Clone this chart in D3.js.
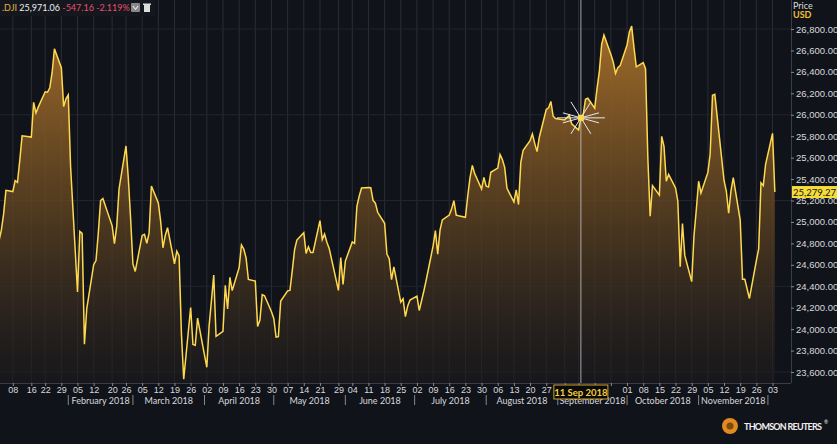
<!DOCTYPE html><html><head><meta charset="utf-8">
<script src="https://cdn.jsdelivr.net/npm/d3@7"></script>
<style>body{margin:0;background:#11131b;}svg{display:block;font-family:Lato,"Open Sans",sans-serif;}</style></head><body>
<svg id="c" width="837" height="444"></svg>
<script>
const dates=["2018-01-02","2018-01-03","2018-01-04","2018-01-05","2018-01-08","2018-01-09","2018-01-10","2018-01-11","2018-01-12","2018-01-16","2018-01-17","2018-01-18","2018-01-19","2018-01-22","2018-01-23","2018-01-24","2018-01-25","2018-01-26","2018-01-29","2018-01-30","2018-01-31","2018-02-01","2018-02-02","2018-02-05","2018-02-06","2018-02-07","2018-02-08","2018-02-09","2018-02-12","2018-02-13","2018-02-14","2018-02-15","2018-02-16","2018-02-20","2018-02-21","2018-02-22","2018-02-23","2018-02-26","2018-02-27","2018-02-28","2018-03-01","2018-03-02","2018-03-05","2018-03-06","2018-03-07","2018-03-08","2018-03-09","2018-03-12","2018-03-13","2018-03-14","2018-03-15","2018-03-16","2018-03-19","2018-03-20","2018-03-21","2018-03-22","2018-03-23","2018-03-26","2018-03-27","2018-03-28","2018-03-29","2018-04-02","2018-04-03","2018-04-04","2018-04-05","2018-04-06","2018-04-09","2018-04-10","2018-04-11","2018-04-12","2018-04-13","2018-04-16","2018-04-17","2018-04-18","2018-04-19","2018-04-20","2018-04-23","2018-04-24","2018-04-25","2018-04-26","2018-04-27","2018-04-30","2018-05-01","2018-05-02","2018-05-03","2018-05-04","2018-05-07","2018-05-08","2018-05-09","2018-05-10","2018-05-11","2018-05-14","2018-05-15","2018-05-16","2018-05-17","2018-05-18","2018-05-21","2018-05-22","2018-05-23","2018-05-24","2018-05-25","2018-05-29","2018-05-30","2018-05-31","2018-06-01","2018-06-04","2018-06-05","2018-06-06","2018-06-07","2018-06-08","2018-06-11","2018-06-12","2018-06-13","2018-06-14","2018-06-15","2018-06-18","2018-06-19","2018-06-20","2018-06-21","2018-06-22","2018-06-25","2018-06-26","2018-06-27","2018-06-28","2018-06-29","2018-07-02","2018-07-03","2018-07-05","2018-07-06","2018-07-09","2018-07-10","2018-07-11","2018-07-12","2018-07-13","2018-07-16","2018-07-17","2018-07-18","2018-07-19","2018-07-20","2018-07-23","2018-07-24","2018-07-25","2018-07-26","2018-07-27","2018-07-30","2018-07-31","2018-08-01","2018-08-02","2018-08-03","2018-08-06","2018-08-07","2018-08-08","2018-08-09","2018-08-10","2018-08-13","2018-08-14","2018-08-15","2018-08-16","2018-08-17","2018-08-20","2018-08-21","2018-08-22","2018-08-23","2018-08-24","2018-08-27","2018-08-28","2018-08-29","2018-08-30","2018-08-31","2018-09-04","2018-09-05","2018-09-06","2018-09-07","2018-09-10","2018-09-11","2018-09-12","2018-09-13","2018-09-14","2018-09-17","2018-09-18","2018-09-19","2018-09-20","2018-09-21","2018-09-24","2018-09-25","2018-09-26","2018-09-27","2018-09-28","2018-10-01","2018-10-02","2018-10-03","2018-10-04","2018-10-05","2018-10-08","2018-10-09","2018-10-10","2018-10-11","2018-10-12","2018-10-15","2018-10-16","2018-10-17","2018-10-18","2018-10-19","2018-10-22","2018-10-23","2018-10-24","2018-10-25","2018-10-26","2018-10-29","2018-10-30","2018-10-31","2018-11-01","2018-11-02","2018-11-05","2018-11-06","2018-11-07","2018-11-08","2018-11-09","2018-11-12","2018-11-13","2018-11-14","2018-11-15","2018-11-16","2018-11-19","2018-11-20","2018-11-21","2018-11-23","2018-11-26","2018-11-27","2018-11-28","2018-11-29","2018-11-30","2018-12-03","2018-12-04"];
const closes=[24824,24922,25075,25295,25283,25385,25369,25574,25803,25792,26115,26017,26071,26214,26210,26252,26392,26616,26439,26076,26149,26186,25520,24346,24912,24893,23860,24190,24601,24640,24893,25200,25219,24964,24798,24963,25310,25709,25410,25029,24608,24538,24874,24884,24801,24895,25336,25178,25007,24759,24873,24946,24610,24727,24683,23958,23533,24202,23857,23849,24103,23644,24033,24264,24505,23933,23979,24408,24189,24483,24360,24573,24786,24748,24665,24463,24448,24024,24084,24322,24311,24163,24100,23925,23930,24262,24357,24361,24543,24739,24831,24899,24706,24768,24714,24715,25013,24835,24887,24811,24753,24362,24668,24416,24635,24813,24800,25146,25241,25317,25322,25320,25201,25175,25090,24987,24700,24657,24461,24580,24252,24283,24117,24216,24271,24307,24174,24356,24456,24776,24919,24700,24924,25019,25064,25120,25199,25064,25058,25044,25241,25415,25527,25451,25307,25415,25333,25326,25463,25502,25629,25583,25509,25313,25187,25300,25162,25558,25669,25758,25822,25733,25656,25790,26049,26064,26124,25986,25964,25952,25974,25995,25916,25857,25971,26000,26145,26154,26062,26246,26405,26657,26743,26562,26492,26385,26439,26458,26651,26773,26828,26627,26447,26487,26430,25599,25053,25340,25250,25798,25706,25380,25444,25317,25191,24583,24985,24688,24443,24875,25116,25380,25270,25462,25636,26181,26191,25989,25387,25286,25081,25289,25413,25018,24466,24465,24286,24640,24749,25366,25339,25538,25826,25279];
const priceTicks=[23600,23800,24000,24200,24400,24600,24800,25000,25200,25400,25600,25800,26000,26200,26400,26600,26800];
const monthLabels=["February 2018","March 2018","April 2018","May 2018","June 2018","July 2018","August 2018","September 2018","October 2018","November 2018"];
const lastPrice="25,279.27";
const crossDate="2018-09-11", crossLabel="11 Sep 2018";

const p=d3.timeParse("%Y-%m-%d");
const data=dates.map((d,i)=>({d:p(d),v:closes[i]}));
const svg=d3.select("#c");
const W=791,H=383;
const x=d3.scaleTime().domain([p("2018-01-02"),p("2018-12-11")]).range([-1,W]);
const y=d3.scaleLinear().domain([23600,26800]).range([372,29]);

svg.append("rect").attr("width",837).attr("height",444).attr("fill","#11131b");
const defs=svg.append("defs");
const g=defs.append("linearGradient").attr("id","ag").attr("x1",0).attr("x2",0).attr("y1",0).attr("y2",1);
g.append("stop").attr("offset","0%").attr("stop-color","#a8702a").attr("stop-opacity",0.95);
g.append("stop").attr("offset","55%").attr("stop-color","#5a4020").attr("stop-opacity",0.8);
g.append("stop").attr("offset","100%").attr("stop-color","#1a1a1c").attr("stop-opacity",0.6);
defs.append("clipPath").attr("id","cp").append("rect").attr("width",W).attr("height",H);

const weeks=d3.groups(data.filter(d=>d.d>=p("2018-01-08")),d=>+d3.timeMonday.floor(d.d)).map(gr=>gr[1][0].d);
const grid=svg.append("g");
grid.selectAll("line.v").data(weeks).join("line").attr("x1",d=>x(d)).attr("x2",d=>x(d)).attr("y1",0).attr("y2",H).attr("stroke","#2a2d36").attr("stroke-width",1);
grid.selectAll("line.h").data(priceTicks.filter((d,i)=>i%4==0)).join("line").attr("x1",0).attr("x2",W).attr("y1",d=>y(d)).attr("y2",d=>y(d)).attr("stroke","#22252e");

const pl=svg.append("g").attr("clip-path","url(#cp)");
pl.append("path").datum(data).attr("fill","url(#ag)").attr("d",d3.area().x(d=>x(d.d)).y0(H).y1(d=>y(d.v)));
pl.append("path").datum(data).attr("fill","none").attr("stroke","#ffd94d").attr("stroke-width",1.5).attr("d",d3.line().x(d=>x(d.d)).y(d=>y(d.v)));

svg.append("line").attr("x1",W+0.5).attr("x2",W+0.5).attr("y1",0).attr("y2",H).attr("stroke","#3a3d46");
svg.append("line").attr("x1",0).attr("x2",W).attr("y1",H+0.5).attr("y2",H+0.5).attr("stroke","#3a3d46");

const ra=svg.append("g").attr("transform",`translate(${W},0)`).call(d3.axisRight(y).tickValues(priceTicks).tickSize(3).tickFormat(d3.format(",.2f")));
ra.select(".domain").remove();
ra.selectAll("text").attr("fill","#d8d8dc").attr("font-size",9.5).attr("x",5);
ra.selectAll("line").attr("stroke","#888");
svg.append("text").attr("x",793).attr("y",9).attr("fill","#ddd").attr("font-size",9).text("Price");
svg.append("text").attr("x",793).attr("y",18).attr("fill","#f0c030").attr("font-size",9).attr("font-weight","bold").text("USD");
svg.append("rect").attr("x",W+1).attr("y",y(25279)-6).attr("width",46).attr("height",12).attr("fill","#f6dc3a");
svg.append("text").attr("x",793).attr("y",y(25279)+3.5).attr("fill","#111").attr("font-size",9.5).text(lastPrice);

const cx=x(p(crossDate)), cy=y(closes[dates.indexOf(crossDate)]);
const tipL=cx-27, tipR=cx+27;

const ba=svg.append("g").attr("transform",`translate(0,${H})`).call(d3.axisBottom(x).tickValues(weeks).tickSize(3).tickFormat(d3.timeFormat("%d")));
ba.select(".domain").remove();
ba.selectAll("text").attr("fill","#d8d8dc").attr("font-size",9).attr("y",4).attr("dy","0.71em");
ba.selectAll(".tick").filter(d=>x(d)>tipL-6&&x(d)<tipR+6).select("text").remove();
ba.selectAll("line").attr("stroke","#888");
const months=d3.timeMonth.range(p("2018-02-01"),p("2018-12-02"));
svg.selectAll("line.ms").data(months).join("line").attr("x1",d=>x(d)).attr("x2",d=>x(d)).attr("y1",H+12).attr("y2",H+22).attr("stroke","#888");
svg.selectAll("text.ml").data(monthLabels).join("text").attr("x",(d,i)=>(x(months[i])+x(months[i+1]))/2).attr("y",H+21).attr("text-anchor","middle").attr("fill","#d8d8dc").attr("font-size",9).text(d=>d);

svg.append("line").attr("x1",cx).attr("x2",cx).attr("y1",0).attr("y2",H).attr("stroke","#c8c8d0").attr("stroke-width",0.8);
const ch=svg.append("g").attr("stroke","#e8e8f0").attr("stroke-width",1).attr("fill","none");
ch.append("line").attr("x1",cx-24).attr("x2",cx+24).attr("y1",cy).attr("y2",cy);
ch.append("line").attr("x1",cx-10).attr("x2",cx+10).attr("y1",cy-16).attr("y2",cy+16);
ch.append("line").attr("x1",cx+10).attr("x2",cx-10).attr("y1",cy-16).attr("y2",cy+16);
ch.append("line").attr("x1",cx-18).attr("x2",cx+18).attr("y1",cy-5).attr("y2",cy+5);
ch.append("line").attr("x1",cx-18).attr("x2",cx+18).attr("y1",cy+5).attr("y2",cy-5);
svg.append("rect").attr("x",cx-3).attr("y",cy-3).attr("width",6).attr("height",6).attr("fill","#ffd94d");
svg.append("rect").attr("x",tipL).attr("y",H+2).attr("width",54).attr("height",14).attr("fill","#0a0a0a").attr("stroke","#c9a030");
svg.append("text").attr("x",cx).attr("y",H+12.5).attr("text-anchor","middle").attr("fill","#f6d040").attr("font-size",9.5).attr("font-weight","bold").text(crossLabel);

svg.append("rect").attr("width",155).attr("height",16).attr("fill","#15171f");
const hd=svg.append("text").attr("x",2).attr("y",11).attr("font-size",9);
hd.append("tspan").attr("fill","#e8b040").text(".DJI ");
hd.append("tspan").attr("fill","#f0f0f0").text("25,971.06 ");
hd.append("tspan").attr("fill","#e8506a").text("-547.16 -2.119%");
svg.append("rect").attr("x",131).attr("y",3).attr("width",9).attr("height",9).attr("fill","#888").attr("rx",1);
svg.append("path").attr("d","M133,6 L135.5,9.5 L138,6").attr("stroke","#fff").attr("fill","none");
svg.append("rect").attr("x",144).attr("y",5).attr("width",6).attr("height",7).attr("fill","#ddd");
svg.append("rect").attr("x",143).attr("y",3.5).attr("width",8).attr("height",1.5).attr("fill","#ddd");

svg.append("circle").attr("cx",730).attr("cy",426).attr("r",8).attr("fill","#e08a20");
svg.append("circle").attr("cx",730).attr("cy",426).attr("r",3.5).attr("fill","#7a4a10");
svg.append("text").attr("x",744).attr("y",429.5).attr("fill","#f0f0f0").attr("font-size",9).attr("font-weight","bold").attr("textLength",78).text("THOMSON REUTERS");
svg.append("text").attr("x",824).attr("y",424).attr("fill","#f0f0f0").attr("font-size",5).text("®");
</script></body></html>
